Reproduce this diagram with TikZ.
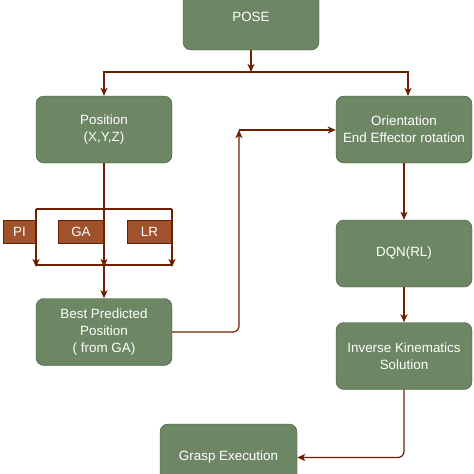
\documentclass[tikz,border=0pt]{standalone}
\usepackage{fontspec}
\setmainfont{Liberation Sans}
\usetikzlibrary{positioning,arrows.meta}
\definecolor{boxgreen}{HTML}{6D8764}
\definecolor{boxedge}{HTML}{3A5431}
\definecolor{algfill}{HTML}{A0522D}
\definecolor{algedge}{HTML}{6D1F00}
\definecolor{wire}{HTML}{6D1F00}

\begin{document}
\begin{tikzpicture}[x=1pt,y=-1pt,font=\fontsize{13.4}{17}\selectfont,>={Stealth[length=8pt,width=7pt,inset=2pt]},
    box/.style={draw=boxedge,fill=boxgreen,rounded corners=8pt,align=center,text=white,minimum width=136pt,minimum height=67pt,inner sep=2pt},
    alg/.style={draw=algedge,fill=algfill,text=white,minimum height=23pt,inner sep=0pt},
    ln/.style={draw=wire,line width=1.2pt}, ar/.style={->,ln}]
  \useasboundingbox (0,0) rectangle (474,474);
  \node[box] (pose) at (251,16.5) {POSE};
  \node[box] (pos) at (104,129.5) {Position\\(X,Y,Z)};
  \node[box] (orient) at (404,129.5) {Orientation\\End Effector rotation};
  \node[box] (dqn) at (404,253.5) {DQN(RL)};
  \node[box] (ik) at (404,356) {Inverse Kinematics\\Solution};
  \node[box] (best) at (104,332) {Best Predicted\\Position\\( from GA)};
  \node[box,minimum width=137pt] (grasp) at (228.5,457.5) {Grasp Execution};
  \node[alg,minimum width=33pt] (pi) at (19.5,231.5) {PI};
  \node[alg,minimum width=46pt] (ga) at (81,231.5) {GA};
  \node[alg,minimum width=45pt] (lr) at (149.5,231.5) {LR};
  \coordinate (split) at (251,72); \coordinate (tl) at (36,209); \coordinate (tr) at (172,209);
  \coordinate (bl) at (36,265); \coordinate (br) at (172,265); \coordinate (bm) at (104,265);
  \coordinate (turn) at (239,130); \coordinate (otop) at (408,96);
  \draw[ar](pose)--(split); \draw[ar](split)-|(pos.north); \draw[ar](split)-|(otop);
  \draw[ar](pos)--([yshift=-2pt]bm); \draw[ln](tl)--(tr); \draw[ar](tl)--([yshift=-2pt]bl); \draw[ar](tr)--([yshift=-2pt]br);
  \draw[ln](bl)--(br); \draw[ar](bm)--(best);
  \draw[ar,rounded corners=6pt](best.east)-|(turn); \draw[ar](turn)--(turn-|orient.west);
  \draw[ar](orient)--(dqn); \draw[ar](dqn)--(ik);
  \draw[ar,rounded corners=6pt](ik.south)|-(grasp.east);
\end{tikzpicture}
\end{document}
